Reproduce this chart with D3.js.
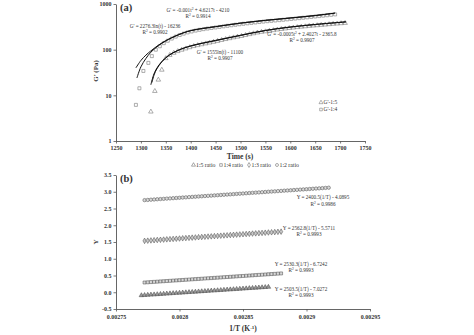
<!DOCTYPE html>
<html>
<head>
<meta charset="utf-8">
<script src="https://cdn.jsdelivr.net/npm/d3@7"></script>
<style>
  body { margin: 0; background: #fff; }
  svg { display: block; }
  text { font-family: "Liberation Serif", "Times New Roman", serif; fill: #333; }
</style>
</head>
<body>
<svg id="chart" width="474" height="335"></svg>
<script>
// ---------- Panel (a): storage modulus G' versus time ----------
const timeTicks = [1250, 1300, 1350, 1400, 1450, 1500, 1550, 1600, 1650, 1700, 1750];
const gTicks = [1, 10, 100, 1000];

// G'-1:4 (squares)
const sqTime = [1290, 1297, 1305, 1315, 1322, 1330, 1338, 1346, 1354, 1362, 1370, 1378, 1386, 1394,
  1402, 1410, 1418, 1426, 1434, 1442, 1450, 1458, 1466, 1474, 1482, 1490, 1498, 1506, 1514, 1522,
  1530, 1538, 1546, 1554, 1562, 1570, 1578, 1586, 1594, 1602, 1610, 1618, 1626, 1634, 1642, 1650,
  1658, 1666, 1674, 1682, 1690];
const sqG = [6.5, 15, 36, 54, 76, 105, 125, 146, 165, 184, 203, 220, 236, 251,
  263, 275, 286, 296, 305, 314, 322, 331, 341, 350, 360, 369, 379, 388, 397, 406,
  415, 424, 433, 442, 450, 458, 466, 475, 485, 495, 505, 515, 526, 537, 548, 560,
  572, 584, 596, 609, 622];

// G'-1:5 (triangles)
const triTime = [1320, 1328, 1335, 1342, 1350, 1358, 1366, 1374, 1382, 1390, 1398, 1406, 1414, 1422,
  1430, 1438, 1446, 1454, 1462, 1470, 1478, 1486, 1494, 1502, 1510, 1518, 1526, 1534, 1542, 1550,
  1558, 1566, 1574, 1582, 1590, 1598, 1606, 1614, 1622, 1630, 1638, 1646, 1654, 1662, 1670, 1678,
  1686, 1694, 1702, 1710];
const triG = [4.6, 13, 23, 38, 68, 80, 89, 97, 104, 111, 118, 125, 131, 137,
  143, 149, 155, 162, 170, 178, 186, 194, 201, 208, 218, 228, 238, 248, 256, 263,
  271, 279, 288, 296, 304, 311, 318, 325, 332, 339, 346, 352, 358, 364, 370, 377,
  384, 390, 396, 402];

// fitted curves
const upperPolyT = [1290, 1300, 1310, 1320, 1335, 1350, 1375, 1400, 1450, 1500, 1550, 1600, 1650, 1690];
const upperPolyG = [40, 58, 76, 94, 125, 158, 212, 262, 320, 382, 440, 495, 560, 635];
const upperLnT = [1292, 1300, 1310, 1320, 1335, 1350, 1375, 1400, 1450, 1500, 1550, 1600, 1650, 1690];
const upperLnG = [24, 42, 64, 88, 122, 155, 210, 260, 318, 380, 436, 492, 556, 630];
const lowerLnT = [1320, 1325, 1330, 1340, 1355, 1375, 1400, 1450, 1500, 1550, 1600, 1650, 1712];
const lowerLnG = [17, 27, 36, 52, 74, 97, 120, 158, 205, 262, 312, 355, 405];
const lowerPolyT = [1322, 1327, 1332, 1342, 1357, 1377, 1400, 1450, 1500, 1550, 1600, 1650, 1712];
const lowerPolyG = [19, 29, 38, 54, 76, 99, 121, 160, 207, 264, 314, 357, 408];

// ---------- Panel (b): Y versus 1/T ----------
const invTTicks = [0.00275, 0.0028, 0.00285, 0.0029, 0.00295];
const invTTickLabels = ["0.00275", "0.0028", "0.00285", "0.0029", "0.00295"];
const yTicksB = [-0.5, 0, 0.5, 1, 1.5, 2, 2.5, 3, 3.5];
const yTickLabelsB = ["-0.5", "0.0", "0.5", "1.0", "1.5", "2.0", "2.5", "3.0", "3.5"];

const invT = [0.002770, 0.0027725, 0.002775, 0.0027775, 0.002780, 0.0027825, 0.002785, 0.0027875, 0.002790, 0.0027925,
  0.002795, 0.0027975, 0.002800, 0.0028025, 0.002805, 0.0028075, 0.002810, 0.0028125, 0.002815, 0.0028175,
  0.002820, 0.0028225, 0.002825, 0.0028275, 0.002830, 0.0028325, 0.002835, 0.0028375, 0.002840, 0.0028425,
  0.002845, 0.0028475, 0.002850, 0.0028525, 0.002855, 0.0028575, 0.002860, 0.0028625, 0.002865, 0.0028675,
  0.002870, 0.0028725, 0.002875, 0.0028775, 0.002880, 0.0028825, 0.002885, 0.0028875, 0.002890, 0.0028925,
  0.002895, 0.0028975, 0.002900, 0.0029025, 0.002905, 0.0029075, 0.002910, 0.0029125, 0.002915, 0.0029175];

const y12 = [2.750, 2.756, 2.763, 2.769, 2.776, 2.782, 2.788, 2.795, 2.801, 2.808,
  2.814, 2.820, 2.827, 2.833, 2.840, 2.846, 2.852, 2.859, 2.865, 2.872,
  2.878, 2.884, 2.891, 2.897, 2.904, 2.910, 2.916, 2.923, 2.929, 2.936,
  2.942, 2.948, 2.955, 2.961, 2.968, 2.974, 2.980, 2.987, 2.993, 3.000,
  3.006, 3.012, 3.019, 3.025, 3.032, 3.038, 3.044, 3.051, 3.057, 3.064,
  3.070, 3.076, 3.083, 3.089, 3.096, 3.102, 3.108, 3.115, 3.121];
const y13 = [1.534, 1.540, 1.547, 1.553, 1.560, 1.566, 1.572, 1.579, 1.585, 1.592,
  1.598, 1.604, 1.611, 1.617, 1.624, 1.630, 1.636, 1.643, 1.649, 1.656,
  1.662, 1.668, 1.675, 1.681, 1.688, 1.694, 1.700, 1.707, 1.713, 1.720,
  1.726, 1.732, 1.739, 1.745, 1.752, 1.758, 1.764, 1.771, 1.777, 1.784,
  1.790, 1.796, 1.803, 1.809];
const y14 = [0.291, 0.297, 0.304, 0.310, 0.316, 0.323, 0.329, 0.335, 0.341, 0.348,
  0.354, 0.360, 0.367, 0.373, 0.379, 0.386, 0.392, 0.398, 0.404, 0.411,
  0.417, 0.423, 0.430, 0.436, 0.442, 0.449, 0.455, 0.461, 0.467, 0.474,
  0.480, 0.486, 0.493, 0.499, 0.505, 0.512, 0.518, 0.524, 0.530, 0.537,
  0.543, 0.549, 0.556, 0.562];
const y15 = [-0.093, -0.087, -0.080, -0.074, -0.068, -0.062, -0.055, -0.049, -0.043, -0.037,
  -0.030, -0.024, -0.018, -0.012, -0.005, 0.001, 0.007, 0.013, 0.020, 0.026,
  0.032, 0.038, 0.045, 0.051, 0.057, 0.063, 0.070, 0.076, 0.082, 0.088,
  0.095, 0.101, 0.107, 0.113, 0.120, 0.126, 0.132, 0.138, 0.145, 0.151,
  0.157];

// ---------- drawing ----------
const svg = d3.select("#chart");
svg.append("rect").attr("width", 474).attr("height", 335).attr("fill", "#fff");

function styleAxis(g) {
  g.selectAll(".domain").attr("stroke", "#555").attr("stroke-width", 0.9);
  g.selectAll(".tick line").attr("stroke", "#555").attr("stroke-width", 0.8);
  g.selectAll(".tick text").attr("font-size", 6).attr("font-weight", "bold")
    .attr("font-family", "Liberation Serif, serif").attr("fill", "#444");
}

// Panel (a)
const xA = d3.scaleLinear().domain([1250, 1750]).range([116, 365]);
const yA = d3.scaleLog().domain([1, 1000]).range([141, 4]);

svg.append("g").attr("transform", "translate(0,141)")
  .call(d3.axisBottom(xA).tickValues(timeTicks).tickFormat(d3.format("d")).tickSize(2.5).tickSizeOuter(0).tickPadding(2))
  .call(styleAxis);
svg.append("g").attr("transform", "translate(116,0)")
  .call(d3.axisLeft(yA).tickValues(gTicks).tickFormat(d3.format("d")).tickSize(2.5).tickSizeOuter(0).tickPadding(2))
  .call(styleAxis);

const lineA = d3.line().x(d => xA(d[0])).y(d => yA(d[1])).curve(d3.curveCatmullRom);
const curvesA = [
  d3.zip(upperPolyT, upperPolyG), d3.zip(upperLnT, upperLnG),
  d3.zip(lowerLnT, lowerLnG), d3.zip(lowerPolyT, lowerPolyG)
];

const sym = (type, size) => d3.symbol().type(type).size(size)();
svg.append("g").selectAll("path").data(d3.zip(sqTime, sqG)).join("path")
  .attr("d", sym(d3.symbolSquare, 9))
  .attr("transform", d => `translate(${xA(d[0])},${yA(d[1]) + 1})`)
  .attr("fill", "none").attr("stroke", "#777").attr("stroke-width", 0.6);
svg.append("g").selectAll("path").data(d3.zip(triTime, triG)).join("path")
  .attr("d", sym(d3.symbolTriangle, 9))
  .attr("transform", d => `translate(${xA(d[0])},${yA(d[1]) + 1})`)
  .attr("fill", "none").attr("stroke", "#777").attr("stroke-width", 0.6);

svg.append("g").selectAll("path").data(curvesA).join("path")
  .attr("d", lineA).attr("fill", "none").attr("stroke", "#111").attr("stroke-width", 1);

svg.append("text").attr("x", 120).attr("y", 11).attr("font-size", 10.5).attr("font-weight", "bold")
  .attr("font-family", "Liberation Sans, Arial, sans-serif").attr("fill", "#222").text("(a)");

svg.append("text").attr("x", 240).attr("y", 158.5).attr("text-anchor", "middle")
  .attr("font-size", 7.5).attr("font-weight", "bold").text("Time (s)");
svg.append("text").attr("transform", "translate(98,71) rotate(-90)").attr("text-anchor", "middle")
  .attr("font-size", 7).attr("font-weight", "bold").text("G' (Pa)");

// equation annotations
function eq(x, y, parts, r2) {
  const t = svg.append("text").attr("x", x).attr("y", y).attr("text-anchor", "middle").attr("font-size", 5.2);
  parts.forEach(p => {
    const s = t.append("tspan").text(p.t);
    if (p.sup) s.attr("baseline-shift", "super").attr("font-size", 3.6);
  });
  svg.append("text").attr("x", x).attr("y", y + 6).attr("text-anchor", "middle").attr("font-size", 5.2)
    .call(tt => { tt.append("tspan").text("R"); tt.append("tspan").attr("baseline-shift", "super").attr("font-size", 3.6).text("2"); tt.append("tspan").text(" = " + r2); });
}
eq(198, 12, [{t: "G' = -0.001t"}, {t: "2", sup: true}, {t: " + 4.6217t - 4210"}], "0.9914");
eq(155, 28, [{t: "G' = 2276.3ln(t) - 16236"}], "0.9902");
eq(220, 54, [{t: "G' = 1555ln(t) - 11100"}], "0.9907");
eq(302, 36, [{t: "G' = -0.0005t"}, {t: "2", sup: true}, {t: " + 2.4027t - 2365.8"}], "0.9907");

// inner legend (a)
const legA = [{type: d3.symbolTriangle, label: "G'-1:5", y: 104}, {type: d3.symbolSquare, label: "G'-1:4", y: 111}];
legA.forEach(l => {
  svg.append("path").attr("d", sym(l.type, 7)).attr("transform", `translate(321,${l.y - 1.5})`)
    .attr("fill", "none").attr("stroke", "#666").attr("stroke-width", 0.5);
  svg.append("text").attr("x", 323.5).attr("y", l.y).attr("font-size", 5.5).text(l.label);
});

// ratio legend
const ratioLabels = ["1:5 ratio", "1:4 ratio", "1:3 ratio", "1:2 ratio"];
const ratioSymbols = [d3.symbolTriangle, d3.symbolSquare, d3.symbolDiamond, d3.symbolCircle];
const legendX = [192, 219.5, 247.5, 275.5];
ratioLabels.forEach((lab, i) => {
  svg.append("path").attr("d", sym(ratioSymbols[i], 7)).attr("transform", `translate(${legendX[i] + 1.5},165)`)
    .attr("fill", "none").attr("stroke", "#555").attr("stroke-width", 0.5);
  svg.append("text").attr("x", legendX[i] + 4).attr("y", 167).attr("font-size", 5.8).text(lab);
});

// Panel (b)
const xB = d3.scaleLinear().domain([0.00275, 0.00295]).range([116, 370]);
const yB = d3.scaleLinear().domain([-0.5, 3.5]).range([309, 175]);

svg.append("g").attr("transform", "translate(0,309)")
  .call(d3.axisBottom(xB).tickValues(invTTicks).tickFormat((d, i) => invTTickLabels[i]).tickSize(2.5).tickSizeOuter(0).tickPadding(3))
  .call(styleAxis);
svg.append("g").attr("transform", "translate(116,0)")
  .call(d3.axisLeft(yB).tickValues(yTicksB).tickFormat((d, i) => yTickLabelsB[i]).tickSize(2.5).tickSizeOuter(0).tickPadding(2))
  .call(styleAxis);

const seriesB = [
  {x: invT.slice(1, 60), y: y12, type: d3.symbolCircle, fill: "#d8d8d8"},
  {x: invT.slice(1, 45), y: y13, type: d3.symbolDiamond, fill: "#c8c8c8"},
  {x: invT.slice(1, 45), y: y14, type: d3.symbolSquare, fill: "#d8d8d8"},
  {x: invT.slice(0, 41), y: y15, type: d3.symbolTriangle, fill: "#999"}
];
seriesB.forEach(s => {
  svg.append("g").selectAll("path").data(d3.zip(s.x, s.y)).join("path")
    .attr("d", sym(s.type, 9))
    .attr("transform", d => `translate(${xB(d[0])},${yB(d[1])})`)
    .attr("fill", s.fill).attr("stroke", "#444").attr("stroke-width", 0.5);
});

svg.append("text").attr("x", 120).attr("y", 182).attr("font-size", 10.5).attr("font-weight", "bold")
  .attr("font-family", "Liberation Sans, Arial, sans-serif").attr("fill", "#222").text("(b)");

const xlabB = svg.append("text").attr("x", 243).attr("y", 330.5).attr("text-anchor", "middle")
  .attr("font-size", 7.5).attr("font-weight", "bold");
xlabB.append("tspan").text("1/T (K");
xlabB.append("tspan").attr("baseline-shift", "super").attr("font-size", 5).text("-1");
xlabB.append("tspan").text(")");
svg.append("text").attr("transform", "translate(98,242) rotate(-90)").attr("text-anchor", "middle")
  .attr("font-size", 7).attr("font-weight", "bold").text("Y");

function eqB(x, y, a, b, r2) {
  svg.append("text").attr("x", x).attr("y", y).attr("text-anchor", "middle").attr("font-size", 5.2)
    .text(`Y = ${a}(1/T) - ${b}`);
  svg.append("text").attr("x", x).attr("y", y + 6.5).attr("text-anchor", "middle").attr("font-size", 5.2)
    .call(tt => { tt.append("tspan").text("R"); tt.append("tspan").attr("baseline-shift", "super").attr("font-size", 3.6).text("2"); tt.append("tspan").text(" = " + r2); });
}
eqB(323, 199, "2400.5", "4.0895", "0.9986");
eqB(309, 229.5, "2562.8", "5.5711", "0.9993");
eqB(301, 265.5, "2530.3", "6.7242", "0.9993");
eqB(301, 290.5, "2503.5", "7.0272", "0.9993");
</script>
</body>
</html>
